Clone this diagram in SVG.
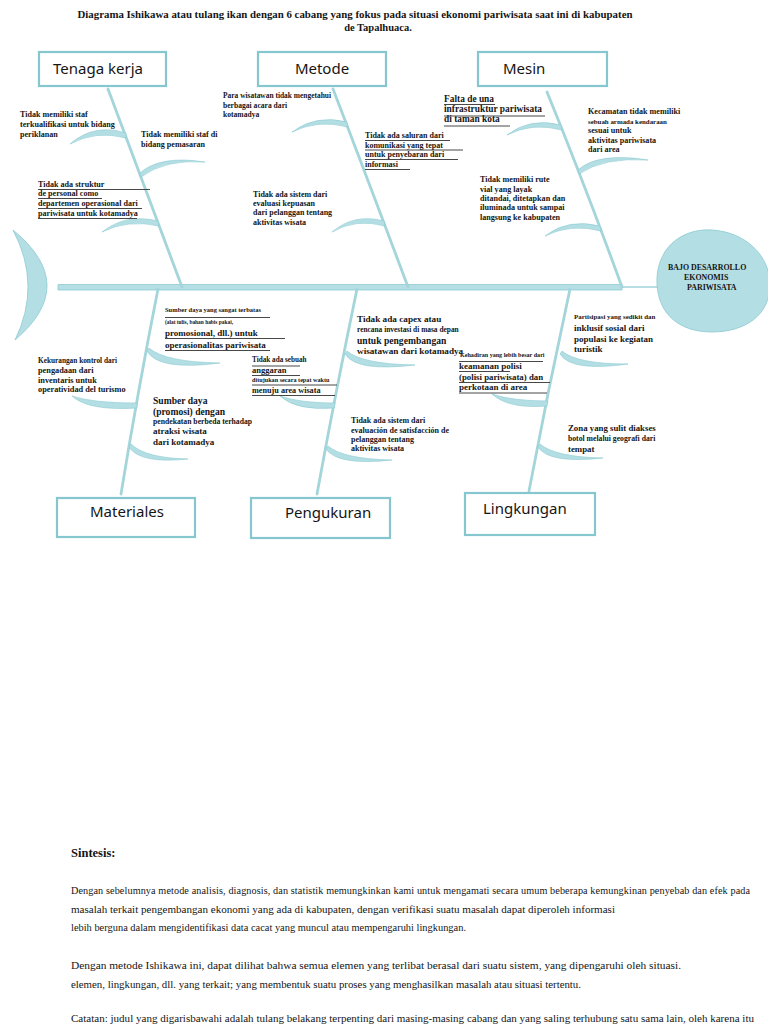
<svg xmlns="http://www.w3.org/2000/svg" width="768" height="1024" viewBox="0 0 768 1024">
<style>
.t{font-family:"Liberation Serif","Times New Roman",serif;font-weight:bold;fill:#151515}
.n{font-family:"Liberation Serif","Times New Roman",serif;fill:#151515}
.bx{font-family:"Noto Sans","DejaVu Sans",sans-serif;fill:#151515;font-size:15px}
.box{fill:#fff;stroke:#86c7cf;stroke-width:2.2}
.bone{fill:none;stroke:#a3d5da;stroke-width:2.8;stroke-linecap:round}
.rib{fill:#b3dfe4;stroke:#8ccad2;stroke-width:0.6}
.ul{stroke:#333;stroke-width:0.9}
</style>
<rect width="768" height="1024" fill="#fff"/>
<g id="title">
<text class="t" x="355" y="18" font-size="10.5" text-anchor="middle" textLength="555" lengthAdjust="spacingAndGlyphs">Diagrama Ishikawa atau tulang ikan dengan 6 cabang yang fokus pada situasi ekonomi pariwisata saat ini di kabupaten</text>
<text class="t" x="378" y="31" font-size="10.5" text-anchor="middle">de Tapalhuaca.</text>
</g>
<g id="connectors">
<path d="M58,284.5 L622,284.5 L622,290 L58,290 Z" fill="#b5dfe4" stroke="#8ccad2" stroke-width="0.8"/>
<line x1="622" y1="287" x2="660" y2="287" stroke="#9fd3d9" stroke-width="1.6"/>
<path class="bone" d="M108,89 Q142,180 182,287"/>
<path class="bone" d="M333,89 Q368,180 408,287"/>
<path class="bone" d="M547,92 Q583,180 622,287"/>
<path class="bone" d="M158,289 Q138,390 121,494"/>
<path class="bone" d="M357,289 Q336,390 317,494"/>
<path class="bone" d="M570,289 Q548,390 529,491"/>
<path class="rib" d="M126,133 Q94,123 70,144 Q96,130 126,138 Z"/>
<path class="rib" d="M140,173 Q160,155 205,162 Q165,159 141,177 Z"/>
<path class="rib" d="M158,221 Q126,213 102,232 Q128,219 159,226 Z"/>
<path class="rib" d="M347,122 Q316,114 292,132 Q318,119 348,127 Z"/>
<path class="rib" d="M384,221 Q354,213 332,232 Q356,218 385,226 Z"/>
<path class="rib" d="M561,125 Q530,117 507,135 Q532,122 562,130 Z"/>
<path class="rib" d="M578,170 Q598,152 648,160 Q604,157 579,174 Z"/>
<path class="rib" d="M600,226 Q568,218 545,236 Q571,223 601,231 Z"/>
<path class="rib" d="M147,351 Q158,371 220,363 Q165,362 149,348 Z"/>
<path class="rib" d="M72,396 Q88,411 137,408 L137,403 Q92,403 72,396 Z"/>
<path class="rib" d="M129,447 Q140,464 188,459 Q145,458 131,444 Z"/>
<path class="rib" d="M345,354 Q356,372 415,365 Q362,364 347,351 Z"/>
<path class="rib" d="M280,396 Q296,411 334,408 L335,403 Q300,403 280,396 Z"/>
<path class="rib" d="M326,449 Q338,466 392,460 Q343,459 328,446 Z"/>
<path class="rib" d="M560,354 Q571,372 628,364 Q577,364 562,351 Z"/>
<path class="rib" d="M492,394 Q508,409 547,406 L548,401 Q512,401 492,394 Z"/>
<path class="rib" d="M538,447 Q549,464 603,458 Q555,457 540,444 Z"/>
<path d="M13,230 Q80,285 15,340 Q42,285 13,230 Z" fill="#b3dfe4" stroke="#8ccad2" stroke-width="0.8"/>
</g>
<g id="head">
<path d="M657,285 C655,250 680,228 712,230 C745,232 770,255 770,285 C770,315 745,332 712,332 C680,332 659,315 657,285 Z" fill="#b3dfe4" stroke="#8ccad2" stroke-width="0.8"/>
<text class="t" x="668" y="270" font-size="7.9">BAJO DESARROLLO</text>
<text class="t" x="684" y="280" font-size="7.9">EKONOMIS</text>
<text class="t" x="687" y="290" font-size="7.9">PARIWISATA</text>
</g>
<g id="box-tenaga-kerja">
<rect class="box" x="39" y="52" width="127" height="34"/>
<text class="bx" x="53" y="74">Tenaga kerja</text>
</g>
<g id="box-metode">
<rect class="box" x="258" y="52" width="128" height="34"/>
<text class="bx" x="322" y="74" text-anchor="middle">Metode</text>
</g>
<g id="box-mesin">
<rect class="box" x="478" y="52" width="129" height="34"/>
<text class="bx" x="503" y="74">Mesin</text>
</g>
<g id="box-materiales">
<rect class="box" x="57" y="498" width="138" height="39"/>
<text class="bx" x="90" y="517" font-size="14">Materiales</text>
</g>
<g id="box-pengukuran">
<rect class="box" x="251" y="498" width="139" height="40"/>
<text class="bx" x="285" y="518" font-size="14">Pengukuran</text>
</g>
<g id="box-lingkungan">
<rect class="box" x="465" y="493" width="130" height="42"/>
<text class="bx" x="483" y="514" font-size="11.8">Lingkungan</text>
</g>
<g id="causes-tenaga-kerja">
<text class="t" font-size="8.1"><tspan x="20" y="117">Tidak memiliki staf</tspan><tspan x="20" y="127">terkualifikasi untuk bidang</tspan><tspan x="20" y="137">periklanan</tspan></text>
<text class="t" font-size="8.1"><tspan x="141" y="137">Tidak memiliki staf di</tspan><tspan x="141" y="147">bidang pemasaran</tspan></text>
<text class="t" font-size="8.1"><tspan x="38" y="187">Tidak ada struktur</tspan><tspan x="38" y="196">de personal como</tspan><tspan x="38" y="206">departemen operasional dari</tspan><tspan x="38" y="216">pariwisata untuk kotamadya</tspan></text>
<line class="ul" x1="38" y1="189.5" x2="150" y2="189.5"/>
<line class="ul" x1="38" y1="198.5" x2="102" y2="198.5"/>
<line class="ul" x1="38" y1="208.5" x2="142" y2="208.5"/>
<line class="ul" x1="38" y1="218.5" x2="137" y2="218.5"/>
</g>
<g id="causes-metode">
<text class="t" font-size="7.6"><tspan x="223" y="98" textLength="108" lengthAdjust="spacingAndGlyphs">Para wisatawan tidak mengetahui</tspan><tspan x="223" y="108">berbagai acara dari</tspan><tspan x="223" y="117">kotamadya</tspan></text>
<text class="t" font-size="8"><tspan x="365" y="138">Tidak ada saluran dari</tspan><tspan x="365" y="148">komunikasi yang tepat</tspan><tspan x="365" y="157">untuk penyebaran dari</tspan><tspan x="365" y="167">informasi</tspan></text>
<line class="ul" x1="365" y1="140.5" x2="450" y2="140.5"/>
<line class="ul" x1="365" y1="150" x2="463" y2="150"/>
<line class="ul" x1="365" y1="159.5" x2="458" y2="159.5" stroke-width="1.5"/>
<line class="ul" x1="365" y1="169.5" x2="410" y2="169.5"/>
<text class="t" font-size="8"><tspan x="253" y="197">Tidak ada sistem dari</tspan><tspan x="253" y="206">evaluasi kepuasan</tspan><tspan x="253" y="215">dari pelanggan tentang</tspan><tspan x="253" y="225">aktivitas wisata</tspan></text>
</g>
<g id="causes-mesin">
<text class="t" font-size="9.4"><tspan x="444" y="102">Falta de una</tspan><tspan x="444" y="112">infrastruktur pariwisata</tspan><tspan x="444" y="122">di taman kota</tspan></text>
<line class="ul" x1="444" y1="104.5" x2="495" y2="104.5"/>
<line class="ul" x1="444" y1="116" x2="545" y2="116"/>
<line class="ul" x1="444" y1="126" x2="510" y2="126"/>
<text class="t" font-size="8.1"><tspan x="588" y="114">Kecamatan tidak memiliki</tspan><tspan x="588" y="124" font-size="6.9">sebuah armada kendaraan</tspan><tspan x="588" y="133">sesuai untuk</tspan><tspan x="588" y="143">aktivitas pariwisata</tspan><tspan x="588" y="152">dari area</tspan></text>
<text class="t" font-size="8.1"><tspan x="480" y="182">Tidak memiliki rute</tspan><tspan x="480" y="192">vial yang layak</tspan><tspan x="480" y="201">ditandai, ditetapkan dan</tspan><tspan x="480" y="210">iluminada untuk sampai</tspan><tspan x="480" y="220">langsung ke kabupaten</tspan></text>
</g>
<g id="causes-materiales">
<text class="t" x="165" y="312" font-size="6.5">Sumber daya yang sangat terbatas</text>
<text class="t" x="165" y="324" font-size="5.4">(alat tulis, bahan habis pakai,</text>
<text class="t" x="165" y="336" font-size="9">promosional, dll.) untuk</text>
<text class="t" x="165" y="348" font-size="9">operasionalitas pariwisata</text>
<line class="ul" x1="165" y1="317.5" x2="270" y2="317.5"/>
<line class="ul" x1="165" y1="338.5" x2="285" y2="338.5"/>
<line class="ul" x1="165" y1="350.5" x2="270" y2="350.5"/>
<text class="t" x="38" y="363" font-size="7.3">Kekurangan kontrol dari</text>
<text class="t" x="38" y="373" font-size="8.3">pengadaan dari</text>
<text class="t" x="38" y="383" font-size="8.3">inventaris untuk</text>
<text class="t" x="38" y="392" font-size="8.3">operatividad del turismo</text>
<text class="t" x="153" y="404" font-size="9.6">Sumber daya</text>
<text class="t" x="153" y="415" font-size="9.6">(promosi) dengan</text>
<text class="t" x="153" y="424" font-size="7.7">pendekatan berbeda terhadap</text>
<text class="t" x="153" y="434" font-size="9">atraksi wisata</text>
<text class="t" x="153" y="445" font-size="9">dari kotamadya</text>
</g>
<g id="causes-pengukuran">
<text class="t" x="357" y="322" font-size="9.2">Tidak ada capex atau</text>
<text class="t" x="357" y="332" font-size="7.4">rencana investasi di masa depan</text>
<text class="t" x="357" y="344" font-size="9.6">untuk pengembangan</text>
<text class="t" x="357" y="354" font-size="9.2">wisatawan dari kotamadya</text>
<text class="t" x="252" y="362" font-size="7.2">Tidak ada sebuah</text>
<text class="t" x="252" y="373" font-size="8.5">anggaran</text>
<text class="t" x="252" y="382" font-size="6.2">ditujukan secara tepat waktu</text>
<text class="t" x="252" y="393" font-size="8.2">menuju area wisata</text>
<line class="ul" x1="252" y1="366" x2="300" y2="366"/>
<line class="ul" x1="252" y1="375.5" x2="300" y2="375.5"/>
<line class="ul" x1="252" y1="385" x2="337" y2="385"/>
<line class="ul" x1="252" y1="395.5" x2="335" y2="395.5"/>
<text class="t" x="351" y="423" font-size="8">Tidak ada sistem dari</text>
<text class="t" x="351" y="433" font-size="8">evaluación de satisfacción de</text>
<text class="t" x="351" y="442" font-size="8">pelanggan tentang</text>
<text class="t" x="351" y="451" font-size="8">aktivitas wisata</text>
</g>
<g id="causes-lingkungan">
<text class="t" x="574" y="319" font-size="6.9">Partisipasi yang sedikit dan</text>
<text class="t" x="574" y="331" font-size="9">inklusif sosial dari</text>
<text class="t" x="574" y="342" font-size="9">populasi ke kegiatan</text>
<text class="t" x="574" y="352" font-size="9">turistik</text>
<text class="t" x="460" y="357" font-size="6.1">Kehadiran yang lebih besar dari</text>
<text class="t" x="459" y="369" font-size="9">keamanan polisi</text>
<text class="t" x="459" y="380" font-size="8.8">(polisi pariwisata) dan</text>
<text class="t" x="459" y="390" font-size="9">perkotaan di area</text>
<line class="ul" x1="459" y1="361.5" x2="543" y2="361.5"/>
<line class="ul" x1="459" y1="371.5" x2="510" y2="371.5"/>
<line class="ul" x1="459" y1="382.5" x2="550" y2="382.5"/>
<line class="ul" x1="459" y1="393" x2="547" y2="393"/>
<text class="t" x="568" y="431" font-size="8.8">Zona yang sulit diakses</text>
<text class="t" x="568" y="441" font-size="7.7">botol melalui geografi dari</text>
<text class="t" x="568" y="452" font-size="8.8">tempat</text>
</g>
<g id="synthesis">
<text class="t" x="71" y="857" font-size="12.5">Sintesis:</text>
<text class="n" x="71" y="894" font-size="10.2" textLength="679" lengthAdjust="spacing">Dengan sebelumnya metode analisis, diagnosis, dan statistik memungkinkan kami untuk mengamati secara umum beberapa kemungkinan penyebab dan efek pada</text>
<text class="n" x="71" y="913" font-size="10.2" textLength="544" lengthAdjust="spacingAndGlyphs">masalah terkait pengembangan ekonomi yang ada di kabupaten, dengan verifikasi suatu masalah dapat diperoleh informasi</text>
<text class="n" x="71" y="931" font-size="10.2" textLength="395" lengthAdjust="spacingAndGlyphs">lebih berguna dalam mengidentifikasi data cacat yang muncul atau mempengaruhi lingkungan.</text>
<text class="n" x="71" y="969" font-size="10.2" textLength="610" lengthAdjust="spacingAndGlyphs">Dengan metode Ishikawa ini, dapat dilihat bahwa semua elemen yang terlibat berasal dari suatu sistem, yang dipengaruhi oleh situasi.</text>
<text class="n" x="71" y="988" font-size="10.2" textLength="510" lengthAdjust="spacingAndGlyphs">elemen, lingkungan, dll. yang terkait; yang membentuk suatu proses yang menghasilkan masalah atau situasi tertentu.</text>
<text class="n" x="71" y="1022" font-size="10.2" textLength="683" lengthAdjust="spacingAndGlyphs">Catatan: judul yang digarisbawahi adalah tulang belakang terpenting dari masing-masing cabang dan yang saling terhubung satu sama lain, oleh karena itu</text>
</g>
</svg>
